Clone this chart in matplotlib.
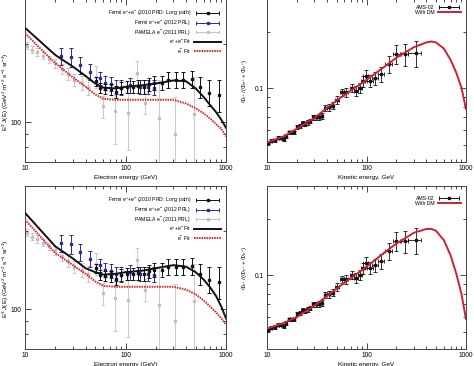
import numpy as np
import matplotlib
matplotlib.use("Agg")
import matplotlib.pyplot as plt
from matplotlib.lines import Line2D
from matplotlib.legend_handler import HandlerLine2D, HandlerTuple
from matplotlib.ticker import FixedLocator, FixedFormatter, LogLocator, NullFormatter

plt.rcParams['font.family'] = ['Liberation Sans', 'DejaVu Sans']
plt.rcParams['mathtext.fontset'] = 'custom'
plt.rcParams['mathtext.rm'] = 'Liberation Sans'
plt.rcParams['mathtext.it'] = 'Liberation Sans:italic'

# ---------------- data: left panels (electron spectra) ----------------
fermi10_E = [50.5, 55.7, 63, 71, 80, 91, 103, 118, 134, 153, 173, 192, 229, 267, 316, 376, 456, 551, 682, 857]
fermi10_v = [144, 136, 134, 134, 131, 136, 137, 137, 138, 137, 140, 142, 142, 146, 146, 146, 147, 137, 130, 127]
fermi10_err = [6, 6, 6, 7, 7, 7, 7, 7, 8, 8, 8, 9, 9, 10, 10, 10, 11, 13, 15, 18]

fermi12_E = [22.6, 28.5, 35.3, 44.4, 55.7, 63, 71, 80, 91, 110, 139, 169, 190]
fermi12_v = [180, 178, 166, 157, 148, 142, 141, 137, 136, 139, 137, 137, 136]
fermi12_err = [13, 15, 12, 11, 9, 9, 9, 9, 9, 9, 9, 9, 9]

pamela_E = [10.4, 11.7, 13.3, 15.2, 17.5, 20, 23.4, 27, 30.7, 36.6, 42.7, 50.5, 60, 79, 107, 129, 158, 217, 311, 484]
pamela_v = [198, 191, 187, 181, 175, 169, 161, 154, 146, 142, 137, 150, 115, 110, 108, 155, 119, 104, 90, 107]
pamela_err = [6, 6, 6, 6, 6, 7, 7, 8, 8, 9, 10, 15, 11, 28, 30, 18, 12, 42, 35, 43]

fit_E = [10, 20, 30, 40, 50, 60, 80, 100, 150, 200, 300, 400, 500, 600, 700, 800, 900, 1000]
fit_ee_top = [232, 182, 164, 151, 141, 136, 135, 137, 139, 141, 145, 144, 135, 125, 116, 109, 102, 95]
fit_e_top = [221, 169, 149, 137, 128, 123, 122, 122, 122, 122, 122, 118, 113, 108, 103, 98, 94, 88]
fit_ee_bot = [236, 175, 157, 144, 139, 136, 137, 139, 141, 144, 148, 146, 139, 130, 121, 112, 102, 92]
fit_e_bot = [222, 165, 148, 137, 128, 123, 122, 122, 122, 122, 122, 119, 114, 108, 102, 97, 92, 87]

# ---------------- data: right panels (positron fraction) ----------------
ams_E = [10.15, 11.05, 11.9, 12.8, 13.6, 14.7, 15.6, 16.5, 17.4, 18.8, 20.0, 21.6, 22.8, 24.3, 25.6,
         27.3, 29.0, 30.8, 33.0, 35.7, 38.6, 41.7, 45.7, 50.5, 56.7, 62.7, 71.5, 78.9, 86.6, 92.2,
         98.1, 109, 122.7, 141, 167, 199.5, 242, 314]
ams_v = [0.0514, 0.0525, 0.0530, 0.0547, 0.0547, 0.0536, 0.0558, 0.0582, 0.0582, 0.0582, 0.0624, 0.0632,
         0.0650, 0.0645, 0.0659, 0.0672, 0.0700, 0.0700, 0.0706, 0.0715, 0.0786, 0.0793, 0.0809, 0.0868,
         0.0954, 0.0954, 0.1007, 0.0973, 0.1007, 0.1093, 0.1172, 0.1100, 0.1134, 0.1197, 0.1355, 0.1530,
         0.1520, 0.1546]
ams_err = [0.001, 0.001, 0.001, 0.0012, 0.0012, 0.0012, 0.0013, 0.0013, 0.0014, 0.0014, 0.0015, 0.0016,
           0.0017, 0.0017, 0.0018, 0.0019, 0.002, 0.0022, 0.0024, 0.0026, 0.003, 0.0032, 0.0036, 0.004,
           0.0045, 0.005, 0.0055, 0.006, 0.0065, 0.007, 0.0075, 0.008, 0.009, 0.011, 0.014, 0.018, 0.021, 0.025]
ams_xlo = [0.15, 0.3, 0.3, 0.3, 0.3, 0.4, 0.4, 0.4, 0.4, 0.5, 0.5, 0.6, 0.6, 0.6, 0.7,
           0.7, 0.8, 0.8, 1.0, 1.0, 1.2, 1.5, 1.7, 2.0, 2.5, 3, 3.5, 4, 4.5, 5,
           5, 7, 8, 10, 13, 15, 18, 54]
ams_xhi = [0.15, 0.3, 0.3, 0.3, 0.3, 0.4, 0.4, 0.4, 0.4, 0.5, 0.5, 0.6, 0.6, 0.6, 0.7,
           0.7, 0.8, 0.8, 1.0, 1.0, 1.2, 1.5, 1.7, 2.0, 2.5, 3, 3.5, 4, 4.5, 5,
           5, 7, 8, 10, 13, 20, 18, 36]

dm_E = [10, 15, 20, 30, 40, 50, 70, 100, 150, 200, 300, 400, 450, 500, 600, 700, 800, 900, 1000]
dm_top = [0.0514, 0.0558, 0.061, 0.0695, 0.0787, 0.0861, 0.0975, 0.111, 0.130, 0.146, 0.166, 0.176,
          0.178, 0.176, 0.163, 0.142, 0.121, 0.101, 0.0776]
dm_bot = [0.052, 0.056, 0.060, 0.069, 0.0775, 0.085, 0.097, 0.111, 0.132, 0.148, 0.169, 0.177,
          0.177, 0.173, 0.154, 0.128, 0.102, 0.0798, 0.0585]

W, H = 474, 366
fig = plt.figure(figsize=(W / 100, H / 100), dpi=100)

def rect(x0, x1, ytop, ybot):
    return [x0 / W, 1 - ybot / H, (x1 - x0) / W, (ybot - ytop) / H]

TFS = 4.8   # tick labels
LFS = 4.6   # axis labels
KFS = 3.7   # key
BLACK = '#111111'
BLUE = '#2a2a9a'
PAM = '#c9bcbf'
RED = '#e02222'
DMRED = '#cc2233'

def style_axes(ax, ylim, ymaj, ymajlab):
    ax.set_xscale('log')
    ax.set_yscale('log')
    ax.set_xlim(10, 1000)
    ax.set_ylim(*ylim)
    ax.xaxis.set_major_locator(FixedLocator([10, 100, 1000]))
    ax.xaxis.set_major_formatter(FixedFormatter(['10', '100', '1000']))
    ax.xaxis.set_minor_locator(LogLocator(base=10, subs=np.arange(2, 10)))
    ax.xaxis.set_minor_formatter(NullFormatter())
    ax.yaxis.set_major_locator(FixedLocator([ymaj]))
    ax.yaxis.set_major_formatter(FixedFormatter([ymajlab]))
    ax.yaxis.set_minor_locator(LogLocator(base=10, subs=np.arange(2, 10)))
    ax.yaxis.set_minor_formatter(NullFormatter())
    ax.tick_params(which='both', direction='in', top=True, right=True, labelsize=TFS, width=0.5, pad=2.5)
    ax.tick_params(which='major', length=4)
    ax.tick_params(which='minor', length=2.2)
    for s in ax.spines.values():
        s.set_linewidth(0.7)
        s.set_color('#444444')

HMAP = {}

def proxy(color):
    # gnuplot-like key sample: horizontal bar with end caps and a square in the middle
    bar = Line2D([], [], color=color, lw=0.7, marker='|', ms=3, mew=0.7)
    sq = Line2D([], [], color=color, lw=0, marker='s', ms=2)
    HMAP[bar] = HandlerLine2D(numpoints=2)
    HMAP[sq] = HandlerLine2D(numpoints=1)
    return (bar, sq)

def left_panel(fit_ee, fit_e, ytop, ybot):
    ax = fig.add_axes(rect(25, 226, ytop, ybot))
    style_axes(ax, (70, 300), 100, '100')
    ax.errorbar(pamela_E, pamela_v, yerr=pamela_err, fmt='s', color=PAM, ms=1.6, lw=0.6,
                capsize=1.2, capthick=0.6, zorder=1)
    ax.errorbar(fermi12_E, fermi12_v, yerr=fermi12_err, fmt='s', color=BLUE, ms=1.9, lw=0.7,
                capsize=1.2, capthick=0.7, zorder=3)
    ax.errorbar(fermi10_E, fermi10_v, yerr=fermi10_err, fmt='s', color=BLACK, ms=1.9, lw=0.7,
                capsize=1.2, capthick=0.7, zorder=4)
    h1 = proxy(BLACK)
    h2 = proxy(BLUE)
    h3 = proxy(PAM)
    l4, = ax.plot(fit_E, fit_ee, color=BLACK, lw=1.4, zorder=5)
    l5, = ax.plot(fit_E, fit_e, color=RED, lw=1.4, ls=(0, (0.8, 0.5)), zorder=5)
    labels = [r'Fermi e$^{+}$+e$^{-}$ (2010 PRD: Long path)', r'Fermi e$^{+}$+e$^{-}$ (2012 PRL)',
              r'PAMELA e$^{-}$ (2011 PRL)', r'e$^{+}$+e$^{-}$ Fit', r'e$^{-}$ Fit']
    ax.legend([h1, h2, h3, l4, l5], labels, handler_map={**HMAP, tuple: HandlerTuple(ndivide=1)},
              loc='upper right', bbox_to_anchor=(0.99, 0.96),
              markerfirst=False, frameon=False, fontsize=KFS, handlelength=5.2, handletextpad=0.6,
              labelspacing=0.12, borderaxespad=0.2)
    ax.set_xlabel('Electron energy (GeV)', fontsize=LFS, labelpad=1.5)
    ax.set_ylabel(r'E$^3$ J(E) (GeV$^2$ m$^{-2}$ s$^{-1}$ sr$^{-1}$)', fontsize=LFS)
    ax.yaxis.set_label_coords(-0.072, 0.43)
    return ax

def right_panel(dm, ytop, ybot, legy):
    ax = fig.add_axes(rect(267, 466, ytop, ybot))
    style_axes(ax, (0.0405, 0.3), 0.1, '0.1')
    ax.errorbar(ams_E, ams_v, yerr=ams_err, xerr=[ams_xlo, ams_xhi], fmt='s', color=BLACK, ms=1.8,
                lw=0.6, capsize=1.2, capthick=0.6, zorder=3)
    h1 = proxy(BLACK)
    l2, = ax.plot(dm_E, dm, color=DMRED, lw=1.4, zorder=4)
    ax.legend([h1, l2], ['AMS-02', 'With DM'], handler_map={**HMAP, tuple: HandlerTuple(ndivide=1)},
              loc='upper right', bbox_to_anchor=(0.99, legy),
              markerfirst=False, frameon=False, fontsize=KFS, handlelength=4.5, handletextpad=0.6,
              labelspacing=0.12, borderaxespad=0.2)
    ax.set_xlabel('Kinetic energy, GeV', fontsize=LFS, labelpad=1.5)
    ax.set_ylabel(r'$\Phi_{e^+}/(\Phi_{e^+}+\Phi_{e^-})$', fontsize=4.4)
    ax.yaxis.set_label_coords(-0.09, 0.5)
    return ax

left_panel(fit_ee_top, fit_e_top, -1, 162)
left_panel(fit_ee_bot, fit_e_bot, 186, 349)
right_panel(dm_top, -1, 162, 0.985)
right_panel(dm_bot, 186, 349, 0.96)

fig.savefig('out.png', dpi=100)
